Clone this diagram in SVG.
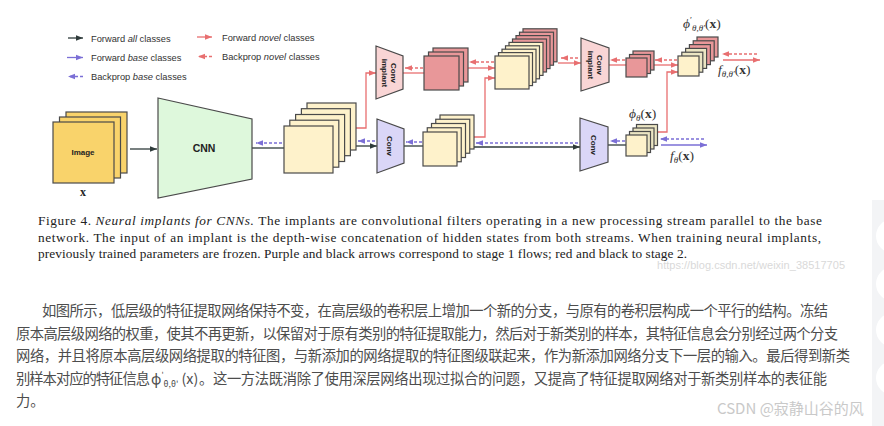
<svg xmlns="http://www.w3.org/2000/svg" width="884" height="426" viewBox="0 0 884 426">
<defs>
<style>
.fm{stroke:#4a4a4a;stroke-width:1.2}
.cr{fill:#fef2cb}
.ct{fill:#ebe5c3}
.rd{fill:#e89799}
.yl{fill:#f9d36b}
.lk{stroke:#2f3b3b;stroke-width:1.3;fill:none}
.lp{stroke:#7b6fd6;stroke-width:1.3;fill:none}
.lr{stroke:#e86f70;stroke-width:1.3;fill:none}
.ds{stroke-dasharray:3 2}
.leg{font-family:"Liberation Sans",Arial,sans-serif;font-size:9.3px;fill:#333}
.bl{font-family:"Liberation Sans",Arial,sans-serif;font-weight:bold;fill:#222}
.mt{font-family:"Liberation Serif","DejaVu Serif",serif;font-size:13.5px;fill:#333}
.cap{font-family:"Liberation Serif","Times New Roman",serif;font-size:13.3px;fill:#222}
.zh{font-family:"Noto Sans CJK SC","Noto Sans",sans-serif;font-size:14.3px;fill:#4d4d4d}
</style>
<marker id="mk" viewBox="0 0 10 10" refX="10" refY="5" markerWidth="7" markerHeight="7" markerUnits="userSpaceOnUse" orient="auto"><path d="M0,1 L10,5 L0,9 z" fill="#2f3b3b"/></marker>
<marker id="mp" viewBox="0 0 10 10" refX="10" refY="5" markerWidth="7" markerHeight="7" markerUnits="userSpaceOnUse" orient="auto"><path d="M0,1 L10,5 L0,9 z" fill="#7b6fd6"/></marker>
<marker id="mr" viewBox="0 0 10 10" refX="10" refY="5" markerWidth="7" markerHeight="7" markerUnits="userSpaceOnUse" orient="auto"><path d="M0,1 L10,5 L0,9 z" fill="#e86f70"/></marker>
</defs>
<rect width="884" height="426" fill="#fff"/>

<g id="legend">
<line class="lk" x1="68" y1="38" x2="83" y2="38" marker-end="url(#mk)"/>
<text class="leg" x="91" y="41.5">Forward <tspan font-style="italic">all</tspan> classes</text>
<line class="lp" x1="67" y1="57.5" x2="83" y2="57.5" marker-end="url(#mp)"/>
<text class="leg" x="91" y="61">Forward <tspan font-style="italic">base</tspan> classes</text>
<line class="lp ds" x1="83" y1="76.5" x2="68" y2="76.5" marker-end="url(#mp)"/>
<text class="leg" x="91" y="80">Backprop <tspan font-style="italic">base</tspan> classes</text>
<line class="lr" x1="197" y1="37" x2="212" y2="37" marker-end="url(#mr)"/>
<text class="leg" x="222" y="40.5">Forward <tspan font-style="italic">novel</tspan> classes</text>
<line class="lr ds" x1="212" y1="56.5" x2="198" y2="56.5" marker-end="url(#mr)"/>
<text class="leg" x="222" y="60">Backprop <tspan font-style="italic">novel</tspan> classes</text>
</g>

<g id="connectors">
<line class="lk" x1="130" y1="149" x2="157" y2="149" marker-end="url(#mk)"/>
<line class="lk" x1="252" y1="148" x2="284" y2="148"/>
<line class="lp ds" x1="282" y1="143" x2="256" y2="143" marker-end="url(#mp)"/>
<line class="lk" x1="356" y1="146" x2="377" y2="146" marker-end="url(#mk)"/>
<line class="lp ds" x1="375" y1="141" x2="358" y2="141" marker-end="url(#mp)"/>
<polyline class="lr" points="356,128 366,128 366,73 376,73" marker-end="url(#mr)"/>
<line class="lk" x1="404" y1="146" x2="423" y2="146"/>
<line class="lp ds" x1="422" y1="142" x2="406" y2="142" marker-end="url(#mp)"/>
<line class="lr" x1="403" y1="73" x2="424" y2="73"/>
<line class="lr ds" x1="423" y1="68" x2="405" y2="68" marker-end="url(#mr)"/>
<line class="lr" x1="468" y1="68" x2="495" y2="68" marker-end="url(#mr)"/>
<line class="lr ds" x1="494" y1="62" x2="469" y2="62" marker-end="url(#mr)"/>
<polyline class="lr" points="474,137 485,137 485,78 495,78" marker-end="url(#mr)"/>
<line class="lk" x1="474" y1="147" x2="580" y2="147" marker-end="url(#mk)"/>
<line class="lp ds" x1="578" y1="143" x2="476" y2="143" marker-end="url(#mp)"/>
<line class="lr" x1="558" y1="63" x2="581" y2="63" marker-end="url(#mr)"/>
<line class="lr ds" x1="578" y1="58" x2="561" y2="58" marker-end="url(#mr)"/>
<line class="lr" x1="609" y1="65" x2="626" y2="65"/>
<line class="lr ds" x1="625" y1="60" x2="610" y2="60" marker-end="url(#mr)"/>
<line class="lr" x1="654" y1="65" x2="678" y2="65" marker-end="url(#mr)"/>
<line class="lr ds" x1="677" y1="60" x2="655" y2="60" marker-end="url(#mr)"/>
<polyline class="lr" points="657,132 667,132 667,72 678,72" marker-end="url(#mr)"/>
<line class="lk" x1="608" y1="145" x2="626" y2="145"/>
<line class="lp ds" x1="625" y1="141" x2="610" y2="141" marker-end="url(#mp)"/>
<line class="lp ds" x1="704" y1="139" x2="660" y2="139" marker-end="url(#mp)"/>
<line class="lp" x1="661" y1="145" x2="707" y2="145" marker-end="url(#mp)"/>
<line class="lr ds" x1="757" y1="54" x2="722" y2="54" marker-end="url(#mr)"/>
<line class="lr" x1="723" y1="60" x2="760" y2="60" marker-end="url(#mr)"/>
</g>

<g id="image">
<rect class="fm yl" x="66" y="112" width="61" height="61"/>
<rect class="fm yl" x="59.5" y="117" width="61" height="61"/>
<rect class="fm yl" x="53" y="122" width="61" height="61"/>
<text class="bl" x="83" y="155" font-size="8" text-anchor="middle">Image</text>
<text x="83" y="196" font-family="Liberation Serif,serif" font-weight="bold" font-size="12" fill="#222" text-anchor="middle">x</text>
</g>

<g id="cnn">
<polygon class="fm" fill="#def8dc" points="158,98 252,119 252,179 158,198"/>
<text class="bl" x="204" y="152" font-size="10.5" text-anchor="middle">CNN</text>
</g>

<g id="stack1">
<rect class="fm cr" x="307" y="103" width="49" height="47"/>
<rect class="fm cr" x="301.4" y="108.7" width="49" height="47"/>
<rect class="fm cr" x="295.6" y="114.5" width="49" height="47"/>
<rect class="fm cr" x="289.8" y="120.2" width="49" height="47"/>
<rect class="fm cr" x="284" y="126" width="49" height="47"/>
</g>

<g id="conv1">
<polygon class="fm" fill="#dad6f7" points="377,119 404,129 404,163 377,173"/>
<text class="bl" font-size="8" text-anchor="middle" transform="translate(390,146) rotate(90)" y="3">Conv</text>
</g>

<g id="implant1">
<polygon class="fm" fill="#f9d5d5" points="376,46 403,56 403,89 376,99"/>
<text class="bl" font-size="8" text-anchor="middle" transform="translate(389.5,73) rotate(90)"><tspan x="0" y="-1.5">Conv</tspan><tspan x="0" y="7.5">implant</tspan></text>
</g>

<g id="stack2">
<rect class="fm cr" x="440" y="115" width="34" height="34"/>
<rect class="fm cr" x="435.75" y="119.25" width="34" height="34"/>
<rect class="fm cr" x="431.5" y="123.5" width="34" height="34"/>
<rect class="fm cr" x="427.25" y="127.75" width="34" height="34"/>
<rect class="fm cr" x="423" y="132" width="34" height="34"/>
</g>

<g id="stack4">
<rect class="fm rd" x="433" y="48" width="35" height="34"/>
<rect class="fm rd" x="428.5" y="52" width="35" height="34"/>
<rect class="fm rd" x="424" y="56" width="35" height="34"/>
</g>

<g id="stack3">
<rect class="fm rd" x="523" y="28.8" width="34" height="33"/>
<rect class="fm rd" x="519.5" y="32.2" width="34" height="33"/>
<rect class="fm rd" x="516" y="35.6" width="34" height="33"/>
<rect class="fm rd" x="512.5" y="39" width="34" height="33"/>
<rect class="fm cr" x="509" y="42.4" width="34" height="33"/>
<rect class="fm cr" x="505.5" y="45.8" width="34" height="33"/>
<rect class="fm cr" x="502" y="49.2" width="34" height="33"/>
<rect class="fm cr" x="498.5" y="52.6" width="34" height="33"/>
<rect class="fm cr" x="495" y="56" width="34" height="33"/>
</g>

<g id="implant2">
<polygon class="fm" fill="#f9d5d5" points="581,38 609,48 609,82 581,91"/>
<text class="bl" font-size="8" text-anchor="middle" transform="translate(595,65) rotate(90)"><tspan x="0" y="-1.5">Conv</tspan><tspan x="0" y="7.5">implant</tspan></text>
</g>

<g id="stack5">
<rect class="fm rd" x="633" y="51" width="21" height="19"/>
<rect class="fm rd" x="629.5" y="54.5" width="21" height="19"/>
<rect class="fm rd" x="626" y="58" width="21" height="19"/>
</g>

<g id="stack6">
<rect class="fm rd" x="697" y="37" width="21" height="20"/>
<rect class="fm rd" x="693.2" y="40.8" width="21" height="20"/>
<rect class="fm rd" x="689.4" y="44.6" width="21" height="20"/>
<rect class="fm ct" x="685.6" y="48.4" width="21" height="20"/>
<rect class="fm ct" x="681.8" y="52.2" width="21" height="20"/>
<rect class="fm cr" x="678" y="56" width="21" height="20"/>
<text class="mt" x="683" y="28"><tspan font-style="italic">ϕ</tspan><tspan font-size="9" dy="-5">′</tspan><tspan font-size="9" font-style="italic" dy="8">θ,θ′</tspan><tspan dy="-3">(</tspan><tspan font-weight="bold">x</tspan>)</text>
<text class="mt" x="718" y="74"><tspan font-style="italic">f</tspan><tspan font-size="9" font-style="italic" dy="3">θ,θ′</tspan><tspan dy="-3">(</tspan><tspan font-weight="bold">x</tspan>)</text>
</g>

<g id="conv2">
<polygon class="fm" fill="#dad6f7" points="580,118 608,127 608,162 580,171"/>
<text class="bl" font-size="8" text-anchor="middle" transform="translate(594,145) rotate(90)" y="3">Conv</text>
</g>

<g id="stack7">
<rect class="fm ct" x="636.5" y="124.5" width="21" height="21"/>
<rect class="fm ct" x="633" y="128" width="21" height="21"/>
<rect class="fm ct" x="629.5" y="131.5" width="21" height="21"/>
<rect class="fm cr" x="626" y="135" width="21" height="21"/>
<text class="mt" x="629" y="118"><tspan font-style="italic">ϕ</tspan><tspan font-size="9" font-style="italic" dy="3">θ</tspan><tspan dy="-3">(</tspan><tspan font-weight="bold">x</tspan>)</text>
<text class="mt" x="670" y="160"><tspan font-style="italic">f</tspan><tspan font-size="9" font-style="italic" dy="3">θ</tspan><tspan dy="-3">(</tspan><tspan font-weight="bold">x</tspan>)</text>
</g>

<g id="caption">
<text class="cap" x="38" y="225" textLength="784" lengthAdjust="spacing">Figure 4. <tspan font-style="italic">Neural implants for CNNs.</tspan>  The implants are convolutional filters operating in a new processing stream parallel to the base</text>
<text class="cap" x="38" y="241.5" textLength="783" lengthAdjust="spacing">network.  The input of an implant is the depth-wise concatenation of hidden states from both streams.  When training neural implants,</text>
<text class="cap" x="38" y="258" textLength="649" lengthAdjust="spacing">previously trained parameters are frozen. Purple and black arrows correspond to stage 1 flows; red and black to stage 2.</text>
<text x="657" y="269" font-family="Liberation Sans,Arial,sans-serif" font-size="11" fill="#d9d9d9" textLength="188" lengthAdjust="spacing">https://blog.csdn.net/weixin_38517705</text>
</g>

<g id="article">
<text class="zh" x="42" y="316" textLength="786" lengthAdjust="spacing">如图所示，低层级的特征提取网络保持不变，在高层级的卷积层上增加一个新的分支，与原有的卷积层构成一个平行的结构。冻结</text>
<text class="zh" x="16" y="338.5" textLength="822" lengthAdjust="spacing">原本高层级网络的权重，使其不再更新，以保留对于原有类别的特征提取能力，然后对于新类别的样本，其特征信息会分别经过两个分支</text>
<text class="zh" x="16" y="361" textLength="834" lengthAdjust="spacing">网络，并且将原本高层级网络提取的特征图，与新添加的网络提取的特征图级联起来，作为新添加网络分支下一层的输入。最后得到新类</text>
<text class="zh" x="16" y="383.5" textLength="134" lengthAdjust="spacing">别样本对应的特征信息</text>
<text class="zh" x="151" y="383.5" font-family="Liberation Sans,sans-serif">ϕ<tspan font-size="8" dy="-6">'</tspan><tspan font-size="8.5" dy="9">θ,θ'</tspan><tspan dy="-3"> (x)</tspan></text>
<text class="zh" x="199" y="383.5" textLength="628" lengthAdjust="spacing">。这一方法既消除了使用深层网络出现过拟合的问题，又提高了特征提取网络对于新类别样本的表征能</text>
<text class="zh" x="16" y="406">力。</text>
<text x="717" y="414" font-family="Noto Sans CJK SC,sans-serif" font-size="15" fill="#c9c9c9">CSDN @寂静山谷的风</text>
</g>

<g id="sidebar">
<rect x="872" y="200" width="12" height="226" fill="#f3f4f6"/>
<circle cx="893" cy="236" r="17" fill="#fff"/>
<circle cx="893" cy="284" r="17" fill="#fff"/>
<circle cx="893" cy="330" r="17" fill="#fff"/>
<circle cx="893" cy="378" r="17" fill="#fff"/>
</g>
</svg>
